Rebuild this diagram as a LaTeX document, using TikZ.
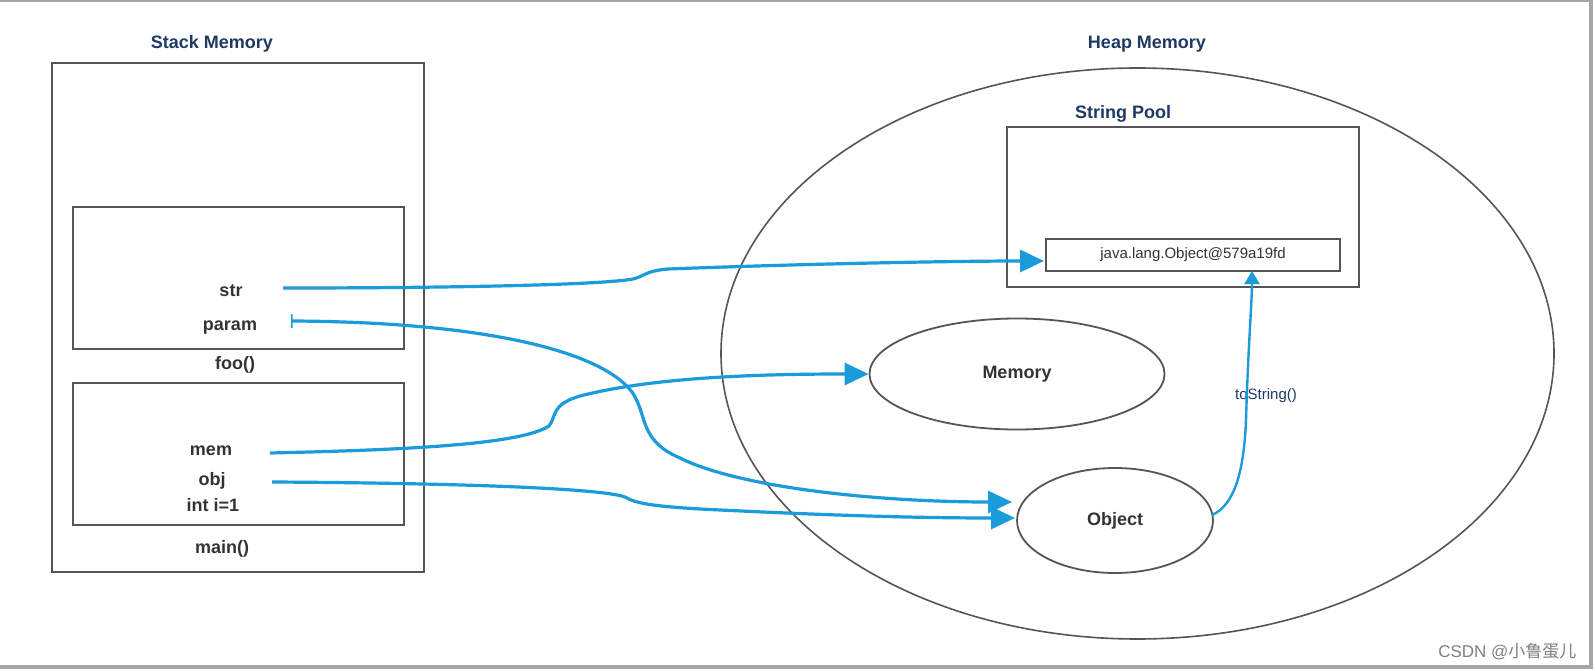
\documentclass[tikz,border=0pt]{standalone}
\usepackage{fontspec}
\setmainfont{Liberation Sans}
\newfontfamily\cjk{Noto Sans CJK SC}
\usetikzlibrary{shapes.geometric,arrows.meta}
\definecolor{navy}{HTML}{1F3A63}
\definecolor{lbl}{HTML}{333333}
\definecolor{arr}{HTML}{1C9BDB}
\definecolor{frame}{HTML}{555555}
\tikzset{
  box/.style={draw=frame, line width=2pt, rectangle, inner sep=0pt},
  oval/.style={draw=frame, line width=1.8pt, ellipse, inner sep=0pt},
  title/.style={text=navy, font=\fontsize{18}{21}\selectfont\bfseries},
  var/.style={text=lbl, font=\fontsize{18}{21}\selectfont\bfseries, inner sep=0pt},
  ref/.style={draw=arr, line width=3.2pt, -{Triangle[length=24pt,width=22pt]}},
}
\begin{document}
\begin{tikzpicture}[x=1pt,y=-1pt]
\useasboundingbox (0,0) rectangle (1595,671);
\fill[white] (0,0) rectangle (1595,671);
% outer frame
\draw[gray!70, line width=2pt] (0,1.5) -- (1591,1.5);
\draw[gray!70, line width=3.5pt] (1591,0) -- (1591,667) -- (0,667);

% stack side
\node[title] (stacktitle) at (212,44) {Stack Memory};
\node[box, minimum width=372pt, minimum height=509pt] (stack) at (238,317.5) {};
\node[box, minimum width=331pt, minimum height=142pt] (foo) at (238.5,278) {};
\node[box, minimum width=331pt, minimum height=142pt] (main) at (238.5,454) {};
\node[var] (str) at (231,291) {str};
\node[var] (param) at (230,328) {param};
\node[var] (foolbl) at (235,365) {foo()};
\node[var] (mem) at (211,451) {mem};
\node[var] (obj) at (212,481) {obj};
\node[var] (inti) at (213,505) {int i=1};
\node[var] (mainlbl) at (222,549) {main()};

% heap side
\node[title] (heaptitle) at (1147,44) {Heap Memory};
\node[oval, line width=1.6pt, minimum width=833pt, minimum height=571pt] (heap) at (1137.5,353.5) {};
\node[title] (pooltitle) at (1123,114) {String Pool};
\node[box, minimum width=352pt, minimum height=160pt] (pool) at (1183,207) {};
\node[box, minimum width=294pt, minimum height=32pt, text=lbl,
      font=\fontsize{15}{18}\selectfont] (objstr) at (1193,255) {java.lang.Object@579a19fd};
\node[oval, minimum width=295pt, minimum height=111pt, text=lbl,
      font=\fontsize{18}{21}\selectfont\bfseries] (memory) at (1017,374) {Memory};
\node[oval, minimum width=196pt, minimum height=105pt, text=lbl,
      font=\fontsize{18}{21}\selectfont\bfseries] (object) at (1115,520.5) {Object};
\node[text=navy, font=\fontsize{15}{18}\selectfont] (tostr) at (1266,396) {toString()};

% free ends of the connectors
\coordinate (strS) at (283,288);
\coordinate (strT) at (1044,261);
\coordinate (paramS) at (291,321);
\coordinate (memS) at (270,453);
\coordinate (objS) at (272,482);
\coordinate (objT1) at (1012,502);
\coordinate (objT2) at (1015,518);
\coordinate (objE) at (1212,515);
\coordinate (poolT) at (1252,271);

% connectors
\draw[ref] (strS) .. controls (450,288) and (600,285) .. (633,279)
  .. controls (645,276) and (645,271) .. (668,269)
  .. controls (800,264) and (950,261) .. (strT);
\draw[ref, {Bar[width=14pt,line width=1.6pt]}-{Triangle[length=24pt,width=22pt]}]
  (paramS) .. controls (480,322) and (600,350) .. (632,392)
  .. controls (648,415) and (638,440) .. (680,458)
  .. controls (740,488) and (880,502) .. (objT1);
\draw[ref] (memS) .. controls (400,450) and (520,445) .. (549,426)
  .. controls (557,416) and (550,405) .. (580,396)
  .. controls (650,378) and (750,374) .. (memory.west);
\draw[ref] (objS) .. controls (450,483) and (600,488) .. (625,497)
  .. controls (635,503) and (650,506) .. (700,509)
  .. controls (800,514) and (900,518) .. (objT2);
\draw[draw=arr, line width=2.4pt, -{Triangle[length=13pt,width=15pt]}]
  (objE) .. controls (1235,505) and (1244,470) .. (1246,420)
  .. controls (1248,350) and (1252,300) .. (poolT);

% watermark
\node[text=gray, font=\fontsize{17}{20}\selectfont, anchor=east] (wm) at (1580,652) {CSDN @{\cjk 小鲁蛋儿}};
\end{tikzpicture}
\end{document}
